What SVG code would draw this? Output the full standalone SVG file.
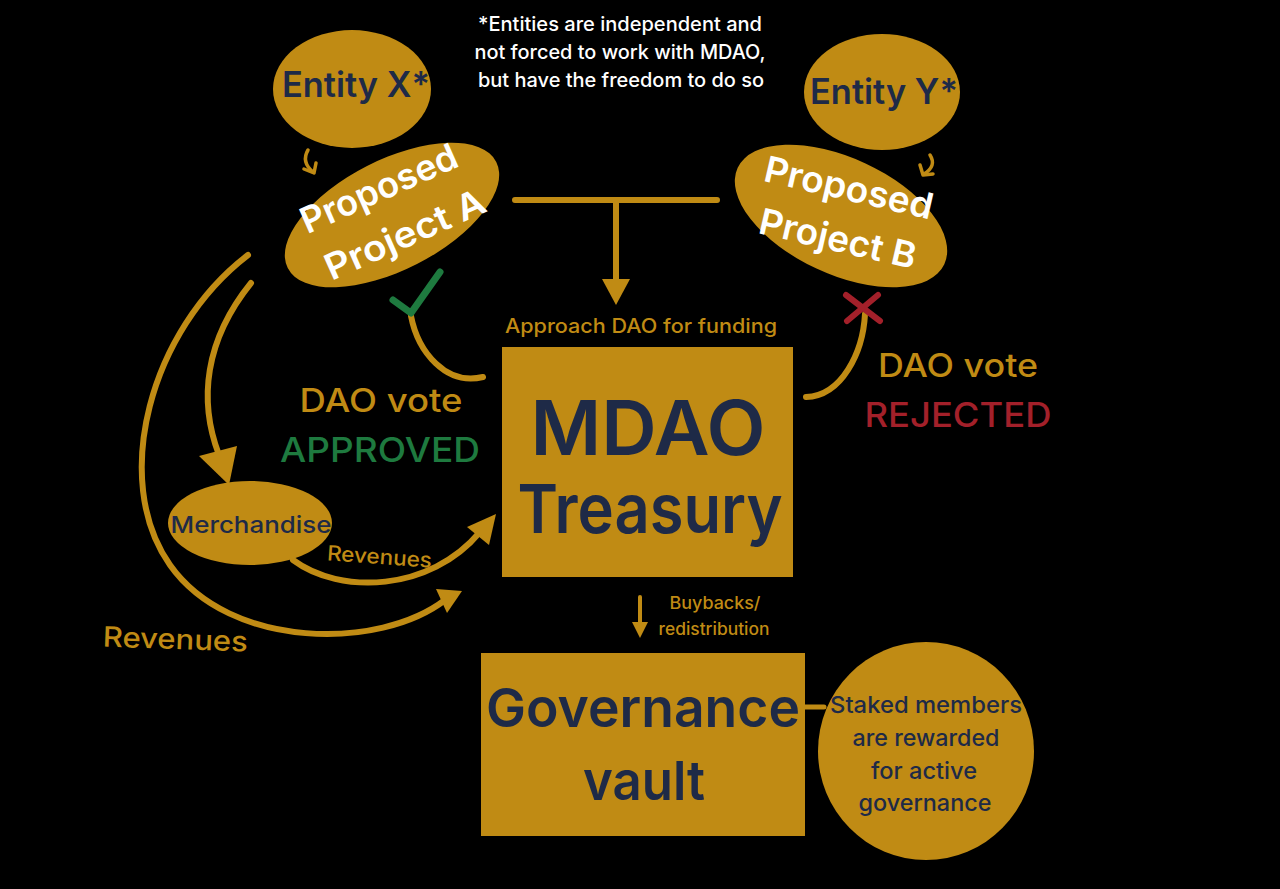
<svg xmlns="http://www.w3.org/2000/svg" width="1280" height="889" viewBox="0 0 1280 889">
<defs>
<style>
.bg{fill:#000}
.gold{fill:#C08B14}
.navy{fill:#1E2A47}
.t{font-family:Inter,"Liberation Sans",sans-serif}
.c{text-anchor:middle}
.w{fill:#fff}
.gtx{fill:#C08B14}
.ln{stroke:#C08B14;fill:none;stroke-linecap:round;stroke-linejoin:round}
</style>
</defs>
<rect class="bg" x="0" y="0" width="1280" height="889"/>

<g id="note">
<text class="t c w" x="620" y="31" font-size="20" font-weight="500" textLength="284" lengthAdjust="spacingAndGlyphs">*Entities are independent and</text>
<text class="t c w" x="620" y="59" font-size="20" font-weight="500" textLength="291" lengthAdjust="spacingAndGlyphs">not forced to work with MDAO,</text>
<text class="t c w" x="621" y="87" font-size="20" font-weight="500" textLength="286" lengthAdjust="spacingAndGlyphs">but have the freedom to do so</text>
</g>

<g id="connectors">
<!-- entity X to project A -->
<path class="ln" stroke-width="3.5" d="M308 150 Q301 162 313 172"/>
<path class="ln" stroke-width="3.5" d="M304 169 L314 173 L316 163"/>
<!-- entity Y to project B -->
<path class="ln" stroke-width="3.5" d="M930 155 Q937 166 924 174"/>
<path class="ln" stroke-width="3.5" d="M920 165 L923 175 L933 174"/>
<!-- T connector -->
<path class="ln" stroke-width="6" d="M515 200 L717 200 M616 200 L616 282"/>
<polygon class="gold" points="602,279 630,279 616,305"/>
<!-- approved curve -->
<path class="ln" stroke-width="6" d="M411 316 C418 352 446 386 483 377"/>
<polyline points="393,300 411,313 440,272" fill="none" stroke="#1E7A3F" stroke-width="7" stroke-linecap="round" stroke-linejoin="round"/>
<!-- rejected curve -->
<path class="ln" stroke-width="6" d="M865 314 C863 352 842 396 806 397"/>
<path d="M846 295 L880 321 M878 295 L847 321" stroke="#A3202A" stroke-width="6" stroke-linecap="round"/>
<!-- inner left arrow to merchandise -->
<path class="ln" stroke-width="6" d="M251 283 C205 340 198 400 219 455"/>
<polygon class="gold" points="199,456 237,446 229,485"/>
<!-- outer left arrow to treasury -->
<path class="ln" stroke-width="6" d="M248 255 C150 330 110 480 170 565 C230 650 380 650 445 600"/>
<polygon class="gold" points="462,591 447,613 436,589"/>
<!-- merchandise to treasury -->
<path class="ln" stroke-width="6" d="M293 560 C340 595 430 592 480 532"/>
<polygon class="gold" points="496,514 489,545 467,527"/>
<!-- buybacks arrow -->
<path class="ln" stroke-width="4" d="M640 597 L640 624"/>
<polygon class="gold" points="632,622 648,622 640,638"/>
<!-- governance to staked -->
<path class="ln" stroke-width="5" d="M803 707 L824 707"/>
</g>

<g id="entityX">
<ellipse class="gold" cx="352" cy="89" rx="79" ry="59"/>
<text class="t c navy" x="356" y="97" font-size="35" font-weight="600" textLength="148" lengthAdjust="spacingAndGlyphs">Entity X*</text>
</g>

<g id="entityY">
<ellipse class="gold" cx="882" cy="92" rx="78" ry="58"/>
<text class="t c navy" x="884" y="104" font-size="35" font-weight="600" textLength="148" lengthAdjust="spacingAndGlyphs">Entity Y*</text>
</g>

<g id="projectA">
<ellipse class="gold" cx="392" cy="215" rx="117" ry="55" transform="rotate(-27 392 215)"/>
<text class="t c w" font-size="36" font-weight="600" transform="translate(384 200) rotate(-24)" textLength="168" lengthAdjust="spacingAndGlyphs">Proposed</text>
<text class="t c w" font-size="36" font-weight="600" transform="translate(410 246) rotate(-24)" textLength="172" lengthAdjust="spacingAndGlyphs">Project A</text>
</g>

<g id="projectB">
<ellipse class="gold" cx="841" cy="216" rx="114" ry="58" transform="rotate(25 841 216)"/>
<text class="t c w" font-size="36" font-weight="600" transform="translate(846 200) rotate(13)" textLength="172" lengthAdjust="spacingAndGlyphs">Proposed</text>
<text class="t c w" font-size="36" font-weight="600" transform="translate(835 251) rotate(13)" textLength="160" lengthAdjust="spacingAndGlyphs">Project B</text>
</g>

<g id="approach">
<text class="t c gtx" x="641" y="333" font-size="20" font-weight="500" textLength="272" lengthAdjust="spacingAndGlyphs">Approach DAO for funding</text>
</g>

<g id="treasury">
<rect class="gold" x="502" y="347" width="291" height="230"/>
<text class="t c navy" x="648" y="455" font-size="75" font-weight="600" textLength="235" lengthAdjust="spacingAndGlyphs">MDAO</text>
<text class="t c navy" x="650" y="533" font-size="68" font-weight="600" textLength="265" lengthAdjust="spacingAndGlyphs">Treasury</text>
</g>

<g id="approved">
<text class="t c gtx" x="381" y="412" font-size="32" font-weight="500" textLength="163" lengthAdjust="spacingAndGlyphs">DAO vote</text>
<text class="t c" fill="#1E7A3F" x="380" y="462" font-size="34" font-weight="500" textLength="200" lengthAdjust="spacingAndGlyphs">APPROVED</text>
</g>

<g id="rejected">
<text class="t c gtx" x="958" y="377" font-size="32" font-weight="500" textLength="160" lengthAdjust="spacingAndGlyphs">DAO vote</text>
<text class="t c" fill="#A3202A" x="958" y="427" font-size="34" font-weight="500" textLength="187" lengthAdjust="spacingAndGlyphs">REJECTED</text>
</g>

<g id="merchandise">
<ellipse class="gold" cx="250" cy="523" rx="82" ry="42"/>
<text class="t c navy" x="251" y="533" font-size="23" font-weight="500" textLength="161" lengthAdjust="spacingAndGlyphs">Merchandise</text>
</g>

<g id="revenues-labels">
<text class="t c gtx" font-size="21" font-weight="500" transform="translate(379 564) rotate(4)" textLength="105" lengthAdjust="spacingAndGlyphs">Revenues</text>
<text class="t c gtx" font-size="28" font-weight="500" transform="translate(175 649) rotate(2)" textLength="145" lengthAdjust="spacingAndGlyphs">Revenues</text>
</g>

<g id="buybacks">
<text class="t c gtx" x="715" y="609" font-size="17" font-weight="500" textLength="91" lengthAdjust="spacingAndGlyphs">Buybacks/</text>
<text class="t c gtx" x="714" y="635" font-size="17" font-weight="500" textLength="111" lengthAdjust="spacingAndGlyphs">redistribution</text>
</g>

<g id="governance">
<rect class="gold" x="481" y="653" width="324" height="183"/>
<text class="t c navy" x="643" y="727" font-size="54" font-weight="600" textLength="314" lengthAdjust="spacingAndGlyphs">Governance</text>
<text class="t c navy" x="644" y="800" font-size="54" font-weight="600" textLength="122" lengthAdjust="spacingAndGlyphs">vault</text>
</g>

<g id="staked">
<ellipse class="gold" cx="926" cy="751" rx="108" ry="109"/>
<text class="t c navy" x="926" y="713" font-size="23" font-weight="500" textLength="192" lengthAdjust="spacingAndGlyphs">Staked members</text>
<text class="t c navy" x="926" y="746" font-size="23" font-weight="500" textLength="147" lengthAdjust="spacingAndGlyphs">are rewarded</text>
<text class="t c navy" x="924" y="779" font-size="23" font-weight="500" textLength="106" lengthAdjust="spacingAndGlyphs">for active</text>
<text class="t c navy" x="925" y="811" font-size="23" font-weight="500" textLength="133" lengthAdjust="spacingAndGlyphs">governance</text>
</g>
</svg>
